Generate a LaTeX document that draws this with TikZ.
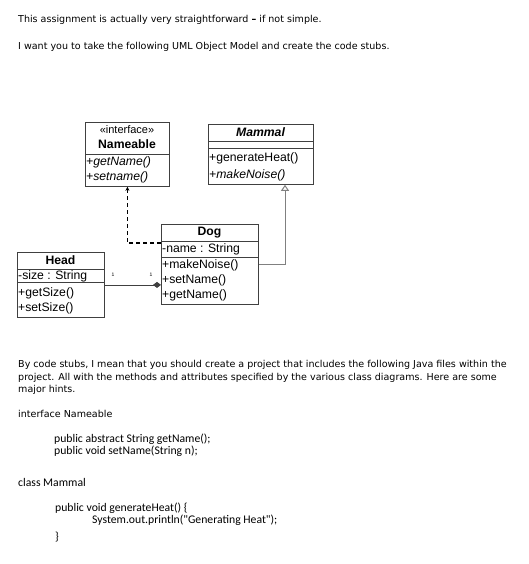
\documentclass[tikz,border=0pt]{standalone}
\usepackage{fontspec}
\setmainfont{DejaVu Sans}
\newfontfamily\umlfont{Liberation Sans}
\newfontfamily\codefont{Carlito}
\usetikzlibrary{arrows.meta,calc}
\begin{document}
\begin{tikzpicture}[x=1pt,y=-1pt,
  prose/.style={anchor=west,inner sep=0pt,font=\fontsize{9.55}{11}\selectfont},
  code/.style={anchor=west,inner sep=0pt,font=\codefont\fontsize{11.7}{13}\selectfont},
  umlbox/.style={draw=black!75,line width=0.8pt,anchor=north west,inner sep=0pt},
  divider/.style={draw=black!75,line width=0.8pt},
  umltext/.style={anchor=west,inner sep=0pt,font=\umlfont\fontsize{12.2}{14}\selectfont},
  umltitle/.style={inner sep=0pt,font=\umlfont\bfseries\fontsize{12.2}{14}\selectfont},
  mult/.style={inner sep=0pt,font=\umlfont\fontsize{5}{6}\selectfont},
]
\useasboundingbox[fill=white] (0,0) rectangle (529,564);

% prose
\node[prose] (t1) at (18,20) {This assignment is actually very straightforward \textbf{–} if not simple.};
\node[prose] (t2) at (18,47) {I want you to take the following UML Object Model and create the code stubs.};

% boxes
\node[umlbox,minimum width=84pt,minimum height=64pt] (nameable) at (85,122) {};
\node[umlbox,minimum width=105pt,minimum height=60pt] (mammal) at (208,124) {};
\node[umlbox,minimum width=97pt,minimum height=80pt] (dog) at (161,224) {};
\node[umlbox,minimum width=87pt,minimum height=65pt] (head) at (17,252) {};

% Nameable
\node[inner sep=0pt,font=\umlfont\fontsize{11}{13}\selectfont] (nI) at (127,130) {«interface»};
\node[umltitle] (nT) at (127,144.5) {Nameable};
\draw[divider] (85,154) -- (169,154);
\node[umltext] (n1) at (86,162) {\itshape +getName()};
\node[umltext] (n2) at (86,177) {\itshape +setname()};

% Mammal
\node[umltitle] (mT) at (260.5,132) {\itshape Mammal};
\draw[divider] (208,141) -- (313,141);
\draw[divider] (208,148) -- (313,148);
\node[umltext] (m1) at (209,158) {+generateHeat()};
\node[umltext] (m2) at (209,175) {\itshape +makeNoise()};

% Dog
\node[umltitle] (dT) at (209.5,232.5) {Dog};
\draw[divider] (161,241) -- (258,241);
\node[umltext] (d0) at (162,249) {-name : String};
\draw[divider] (161,257) -- (258,257);
\node[umltext] (d1) at (162,265) {+makeNoise()};
\node[umltext] (d2) at (162,280) {+setName()};
\node[umltext] (d3) at (162,295) {+getName()};

% Head
\node[umltitle] (hT) at (60.5,260.5) {Head};
\draw[divider] (17,269) -- (104,269);
\node[umltext] (h0) at (18,276) {-size : String};
\draw[divider] (17,282) -- (104,282);
\node[umltext] (h1) at (18,293) {+getSize()};
\node[umltext] (h2) at (18,308) {+setSize()};

% connectors
\coordinate (dashend) at ($(dog.north west)+(0,19)$);
\draw[line width=1.1pt,dash pattern=on 4pt off 3pt,-{Stealth[length=4pt,width=4pt]}]
  (dashend) -| (nameable.south);
\coordinate (genstart) at ($(dog.north east)+(0,40)$);
\coordinate (mamfoot) at ($(mammal.south west)+(77,0)$);
\draw[black!50,line width=1pt,-{Triangle[open,length=6pt,width=8pt,fill=white]}]
  (genstart) -| (mamfoot);
\draw[black!75,line width=0.8pt,-{Diamond[length=8pt,width=6pt]}]
  (head.east) -- (dog.west |- head.east);
\node[mult] (m1a) at (113,275) {1};
\node[mult] (m1b) at (151,275) {1};

% lower prose
\node[prose] (p1) at (18,365) {By code stubs, I mean that you should create a project that includes the following Java files within the};
\node[prose] (p2) at (18,378) {project. All with the methods and attributes specified by the various class diagrams. Here are some};
\node[prose] (p3) at (18,390) {major hints.};
\node[prose] (p4) at (18,414) {interface Nameable};
\node[code] (c1) at (54,439) {public abstract String getName();};
\node[code] (c2) at (54,451) {public void setName(String n);};
\node[code] (c3) at (18,482) {class Mammal};
\node[code] (c4) at (55,508) {public void generateHeat() \{};
\node[code] (c5) at (92,520) {System.out.println("Generating Heat");};
\node[code] (c6) at (55,537) {\}};
\end{tikzpicture}
\end{document}
